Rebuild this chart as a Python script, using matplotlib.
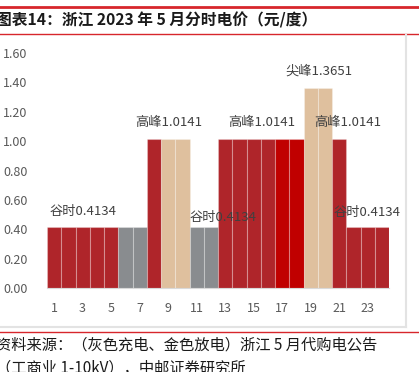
import matplotlib
matplotlib.use("Agg")
import matplotlib.pyplot as plt
from matplotlib.lines import Line2D

plt.rcParams['font.family'] = ['Noto Sans CJK SC', 'DejaVu Sans']

hours = list(range(1, 25))
prices = [0.4134]*5 + [0.4134]*2 + [1.0141] + [1.0141]*2 + [0.4134]*2 + \
         [1.0141]*4 + [1.0141]*2 + [1.3651]*2 + [1.0141] + [0.4134]*3
kinds = ['r']*5 + ['g']*2 + ['r'] + ['t']*2 + ['g']*2 + ['r']*4 + ['b']*2 + ['t']*2 + ['r'] + ['r']*3
color_map = {'r': '#AF252A', 'g': '#898C8F', 't': '#DFC09E', 'b': '#C00000'}
xticks = list(range(1, 25, 2))
yticks = [0, 0.2, 0.4, 0.6, 0.8, 1.0, 1.2, 1.4, 1.6]

annot_text = ['谷时0.4134', '高峰1.0141', '谷时0.4134', '高峰1.0141', '尖峰1.3651', '高峰1.0141', '谷时0.4134']
annot_x = [3.0, 9.06, 12.85, 15.6, 19.6, 21.6, 22.96]
annot_y = [0.524, 1.13, 0.483, 1.13, 1.477, 1.13, 0.517]

W, H = 419, 372
fig = plt.figure(figsize=(W/100, H/100), dpi=100)

ax = fig.add_axes([47/W, (H-288)/H, 342/W, 235/H])
ax.bar(hours, prices, width=1.0, color=[color_map[k] for k in kinds],
       edgecolor=(1, 1, 1, 0.25), linewidth=0.8)
ax.set_xlim(0.5, 24.5)
ax.set_ylim(0, 1.6)
ax.set_xticks(xticks)
ax.set_yticks(yticks)
ax.set_yticklabels([f'{v:.2f}' for v in yticks])
ax.tick_params(length=0, labelsize=9, colors='#595959')
ax.tick_params(axis='x', pad=10)
ax.tick_params(axis='y', pad=14)
for s in ['top', 'right', 'left']:
    ax.spines[s].set_visible(False)
ax.spines['bottom'].set_color('#D9D9D9')
ax.spines['bottom'].set_linewidth(0.8)

for t, x, y in zip(annot_text, annot_x, annot_y):
    ax.text(x, y, t, ha='center', va='center', fontsize=9.5, color='#404040')

def hline(y, x0, x1, color, lw):
    fig.add_artist(Line2D([x0/W, x1/W], [1-y/H, 1-y/H], color=color, lw=lw, transform=fig.transFigure))

def vline(x, y0, y1, color, lw):
    fig.add_artist(Line2D([x/W, x/W], [1-y0/H, 1-y1/H], color=color, lw=lw, transform=fig.transFigure))

hline(7, 0, W, '#D7262C', 2.0)
hline(34, 0, W, '#D7262C', 1.0)
vline(406, 35, 327, '#E3E3E3', 1.5)
hline(327, 0, 406, '#E3E3E3', 1.5)
hline(332, 0, W, '#D7262C', 1.0)

fig.text(-4/W, 1-20/H, '图表14：浙江 2023 年 5 月分时电价（元/度）', ha='left', va='center',
         fontsize=11.3, fontweight='bold', color='#1a1a1a')
fig.text(-4/W, 1-345/H, '资料来源：（灰色充电、金色放电）浙江 5 月代购电公告', ha='left', va='center',
         fontsize=11, color='#1a1a1a')
fig.text(-4/W, 1-368/H, '（工商业 1-10kV），中邮证券研究所', ha='left', va='center',
         fontsize=11, color='#1a1a1a')

fig.savefig('out.png', dpi=100)
